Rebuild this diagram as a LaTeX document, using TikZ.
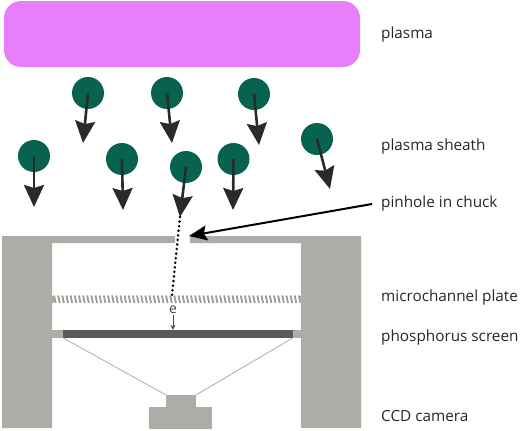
\documentclass[tikz,border=0pt]{standalone}
\usepackage{fontspec}
\setmainfont{Open Sans}
\usetikzlibrary{arrows.meta}
\definecolor{plasmac}{HTML}{E67FF9}
\definecolor{ionc}{HTML}{07624F}
\definecolor{chuckc}{HTML}{ADACA6}
\definecolor{screenc}{HTML}{5A5A5A}
\definecolor{arrowc}{HTML}{2A2A2A}
\tikzset{
  ion/.style={circle,fill=ionc,draw=none,minimum size=32pt,inner sep=0pt},
  fall/.style={draw=arrowc,line width=2.6pt,-{Stealth[length=22pt,width=20pt,inset=3pt]}},
  chuck/.style={fill=chuckc,draw=none},
  lab/.style={anchor=base west,inner sep=0pt,font=\fontsize{15.3pt}{17pt}\selectfont,text=black!85},
  hatchline/.style={draw=chuckc!90!black,line width=1.8pt},
  ray/.style={draw=chuckc,line width=0.8pt}
}
\begin{document}
\begin{tikzpicture}[x=1pt,y=-1pt]
\useasboundingbox (0,0) rectangle (520,431);
\node[fill=plasmac,draw=none,rounded corners=17pt,minimum width=356pt,minimum height=66pt,inner sep=0pt] (plasma) at (182,34) {};
% chuck
\fill[chuck] (2,236) -- (175,236) -- (175,243) -- (52,243) -- (52,428) -- (2,428) -- cycle;
\fill[chuck] (190,236) -- (361,236) -- (361,428) -- (301,428) -- (301,243) -- (190,243) -- cycle;
% supports
\fill[chuck] (52,330) rectangle (301,337.5);
% channel plate
\foreach \x in {54,58.15,...,300}{\draw[hatchline] (\x,295.5) -- (\x+1.6,303);}
\fill[chuck] (52,295.5) rectangle (53.5,303);
\fill[chuck] (299.5,295.5) rectangle (301,303);
\node[fill=screenc,draw=none,minimum width=230pt,minimum height=7.5pt,inner sep=0pt] (screen) at (178,333.75) {};
% camera
\fill[chuck] (166,395) rectangle (196,407);
\fill[chuck] (149,407) rectangle (212,429);
\coordinate (camL) at (166,395);
\coordinate (camR) at (196,395);
\draw[ray] (screen.south west) -- (camL);
\draw[ray] (screen.south east) -- (camR);
% ions
\node[ion] (i1) at (88,93) {};
\node[ion] (i2) at (167,93) {};
\node[ion] (i3) at (254,94) {};
\node[ion] (i4) at (34,156) {};
\node[ion] (i5) at (122,159) {};
\node[ion] (i6) at (186,167) {};
\node[ion] (i7) at (233.5,159) {};
\node[ion] (i8) at (317,139) {};
\coordinate (t1) at (83,143);
\coordinate (t2) at (172,143);
\coordinate (t3) at (259,145);
\coordinate (t4) at (34,207);
\coordinate (t5) at (123,210);
\coordinate (t6) at (180,217);
\coordinate (t7) at (233,210);
\coordinate (t8) at (330,189);
\foreach \n in {1,...,8}{\draw[fall] (i\n.center) -- (t\n);}
% electron path
\coordinate (mcp) at (172,295);
\draw[black,line width=2.8pt,line cap=round,dash pattern=on 0pt off 4.6pt] (t6) -- (mcp);
\node[anchor=base,inner sep=0pt,font=\fontsize{14pt}{16pt}\selectfont,text=black!75] (e) at (173,313) {e};
\coordinate (scr) at (screen.north -| e);
\draw[draw=black!70,line width=1pt,-{Stealth[length=5pt,width=5pt]}] (e.south) ++(0,2) -- (scr);
% labels
\node[lab] (l1) at (381,38) {plasma};
\node[lab] (l2) at (381,150) {plasma sheath};
\node[lab] (l3) at (381,207) {pinhole in chuck};
\node[lab] (l4) at (381,301) {microchannel plate};
\node[lab] (l5) at (381,341) {phosphorus screen};
\node[lab] (l6) at (381,421) {CCD camera};
\coordinate (hole) at (189,236);
\draw[black,line width=2pt,-{Stealth[length=18pt,width=15pt,inset=3pt]}] (372,204) -- (hole);
\end{tikzpicture}
\end{document}
